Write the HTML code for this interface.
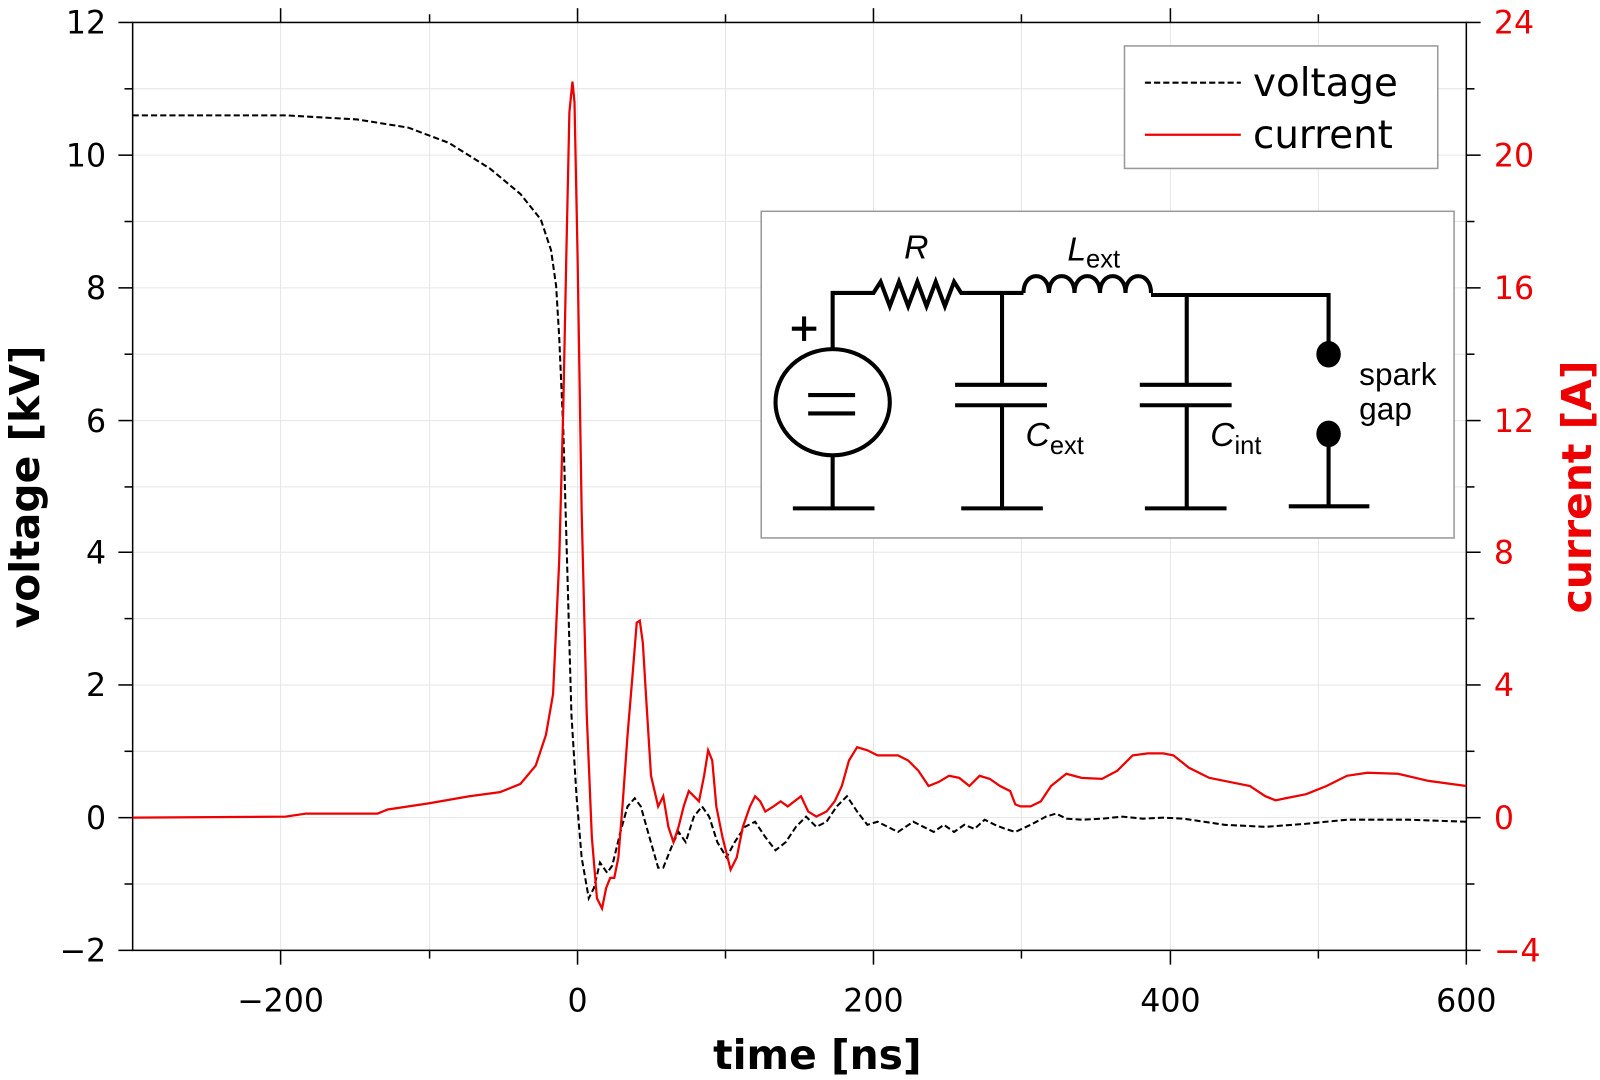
<!DOCTYPE html>
<html><head><style>
html,body{margin:0;padding:0;background:#fff;}
svg{display:block;font-family:"DejaVu Sans","Liberation Sans",sans-serif;}
</style></head><body>
<svg width="1600" height="1080" viewBox="0 0 1568 1058" preserveAspectRatio="none" xmlns="http://www.w3.org/2000/svg">
<rect width="1568" height="1058" fill="#fff"/>
<g stroke="#e6e6e6" stroke-width="1">
<line x1="130" y1="87" x2="1437" y2="87"/><line x1="130" y1="152" x2="1437" y2="152"/><line x1="130" y1="217" x2="1437" y2="217"/><line x1="130" y1="282" x2="1437" y2="282"/><line x1="130" y1="347" x2="1437" y2="347"/><line x1="130" y1="412" x2="1437" y2="412"/><line x1="130" y1="477" x2="1437" y2="477"/><line x1="130" y1="541" x2="1437" y2="541"/><line x1="130" y1="606" x2="1437" y2="606"/><line x1="130" y1="671" x2="1437" y2="671"/><line x1="130" y1="736" x2="1437" y2="736"/><line x1="130" y1="801" x2="1437" y2="801"/><line x1="130" y1="866" x2="1437" y2="866"/>
<line x1="275" y1="22" x2="275" y2="931"/><line x1="421" y1="22" x2="421" y2="931"/><line x1="566" y1="22" x2="566" y2="931"/><line x1="711" y1="22" x2="711" y2="931"/><line x1="856" y1="22" x2="856" y2="931"/><line x1="1001" y1="22" x2="1001" y2="931"/><line x1="1147" y1="22" x2="1147" y2="931"/><line x1="1292" y1="22" x2="1292" y2="931"/>
</g>
<rect x="130" y="22" width="1307" height="909" fill="none" stroke="#000" stroke-width="1.5"/>
<g stroke="#000" stroke-width="1.5">
<line x1="130" y1="22" x2="116" y2="22"/><line x1="130" y1="152" x2="116" y2="152"/><line x1="130" y1="282" x2="116" y2="282"/><line x1="130" y1="412" x2="116" y2="412"/><line x1="130" y1="541" x2="116" y2="541"/><line x1="130" y1="671" x2="116" y2="671"/><line x1="130" y1="801" x2="116" y2="801"/><line x1="130" y1="931" x2="116" y2="931"/>
<line x1="130" y1="87" x2="122" y2="87"/><line x1="130" y1="217" x2="122" y2="217"/><line x1="130" y1="347" x2="122" y2="347"/><line x1="130" y1="477" x2="122" y2="477"/><line x1="130" y1="606" x2="122" y2="606"/><line x1="130" y1="736" x2="122" y2="736"/><line x1="130" y1="866" x2="122" y2="866"/>
<line x1="275" y1="931" x2="275" y2="945"/><line x1="566" y1="931" x2="566" y2="945"/><line x1="856" y1="931" x2="856" y2="945"/><line x1="1147" y1="931" x2="1147" y2="945"/><line x1="1437" y1="931" x2="1437" y2="945"/>
<line x1="421" y1="931" x2="421" y2="939"/><line x1="711" y1="931" x2="711" y2="939"/><line x1="1001" y1="931" x2="1001" y2="939"/><line x1="1292" y1="931" x2="1292" y2="939"/>
<line x1="275" y1="22" x2="275" y2="8"/><line x1="566" y1="22" x2="566" y2="8"/><line x1="856" y1="22" x2="856" y2="8"/><line x1="1147" y1="22" x2="1147" y2="8"/><line x1="421" y1="22" x2="421" y2="14"/><line x1="711" y1="22" x2="711" y2="14"/><line x1="1001" y1="22" x2="1001" y2="14"/><line x1="1292" y1="22" x2="1292" y2="14"/>
<line x1="1437" y1="22" x2="1451" y2="22"/><line x1="1437" y1="152" x2="1451" y2="152"/><line x1="1437" y1="282" x2="1451" y2="282"/><line x1="1437" y1="412" x2="1451" y2="412"/><line x1="1437" y1="541" x2="1451" y2="541"/><line x1="1437" y1="671" x2="1451" y2="671"/><line x1="1437" y1="801" x2="1451" y2="801"/><line x1="1437" y1="931" x2="1451" y2="931"/>
<line x1="1437" y1="87" x2="1445" y2="87"/><line x1="1437" y1="217" x2="1445" y2="217"/><line x1="1437" y1="347" x2="1445" y2="347"/><line x1="1437" y1="477" x2="1445" y2="477"/><line x1="1437" y1="606" x2="1445" y2="606"/><line x1="1437" y1="736" x2="1445" y2="736"/><line x1="1437" y1="866" x2="1445" y2="866"/>
</g>
<g font-size="31" text-anchor="end" fill="#000">
<text x="104" y="33">12</text><text x="104" y="163">10</text><text x="104" y="293">8</text><text x="104" y="423">6</text><text x="104" y="552">4</text><text x="104" y="682">2</text><text x="104" y="812">0</text><text x="104" y="942">−2</text>
</g>
<g font-size="31" text-anchor="start" fill="#e00">
<text x="1464" y="33">24</text><text x="1464" y="163">20</text><text x="1464" y="293">16</text><text x="1464" y="423">12</text><text x="1464" y="552">8</text><text x="1464" y="682">4</text><text x="1464" y="812">0</text><text x="1464" y="942">−4</text>
</g>
<g font-size="31" text-anchor="middle">
<text x="275" y="991">−200</text><text x="566" y="991">0</text><text x="856" y="991">200</text><text x="1147" y="991">400</text><text x="1437" y="991">600</text>
</g>
<text x="801" y="1047" font-size="40" font-weight="bold" text-anchor="middle">time [ns]</text>
<text transform="translate(38,477) rotate(-90)" font-size="40" font-weight="bold" text-anchor="middle">voltage [kV]</text>
<text transform="translate(1559,477) rotate(-90)" font-size="40" font-weight="bold" text-anchor="middle" fill="#e00">current [A]</text>
<polyline fill="none" stroke="#000" stroke-width="2" stroke-dasharray="6,3" points="130,113 280,113 350,117 400,125 440,140 480,165 510,190 530,215 540,245 545,280 548,330 552,420 556,560 560,700 565,780 570,840 577,880 582,870 588,845 595,855 600,848 608,815 615,790 622,782 628,790 635,815 645,850 650,850 660,825 665,815 672,825 680,800 688,790 695,800 703,825 712,840 720,825 730,810 740,805 750,820 760,833 770,825 780,810 790,800 800,810 810,805 820,790 830,780 840,795 850,808 860,805 870,810 880,815 895,805 905,810 915,815 925,808 935,815 945,808 955,812 965,803 975,808 985,812 995,815 1010,808 1025,800 1035,797 1045,802 1060,803 1080,802 1100,800 1120,802 1140,801 1160,802 1180,805 1200,808 1240,810 1280,807 1320,803 1380,803 1437,805"/>
<polyline fill="none" stroke="#e00" stroke-width="2.2" points="130,801 280,800 300,797 370,797 380,793 420,787 460,780 490,776 510,768 525,750 535,720 542,680 548,550 552,400 555,250 558,110 561,80 563,100 566,250 570,500 575,700 580,820 585,880 590,890 594,870 598,860 602,860 606,840 610,790 615,720 620,660 624,610 627,608 630,630 633,680 638,760 645,790 650,780 655,810 660,825 665,810 670,790 675,775 680,780 685,785 690,760 694,735 698,745 702,790 708,820 716,852 722,840 728,810 735,790 740,780 745,785 750,795 758,790 765,785 772,790 785,780 792,795 800,800 810,795 818,785 825,770 832,745 840,732 850,735 860,740 880,740 890,745 900,755 910,770 920,766 930,760 940,762 950,770 960,760 970,763 980,770 990,775 995,788 1000,790 1010,790 1020,785 1030,770 1045,758 1060,762 1080,763 1095,755 1110,740 1125,738 1140,738 1150,740 1165,752 1185,762 1205,766 1225,770 1240,780 1250,784 1260,782 1280,778 1300,770 1320,760 1340,757 1370,758 1400,765 1437,770"/>
<rect x="1102" y="45" width="307" height="120" fill="#fff" stroke="#999" stroke-width="1.5"/>
<line x1="1122" y1="81" x2="1216" y2="81" stroke="#000" stroke-width="2" stroke-dasharray="6,3"/>
<line x1="1122" y1="132" x2="1216" y2="132" stroke="#e00" stroke-width="2.2"/>
<text x="1228" y="94" font-size="38">voltage</text>
<text x="1228" y="145" font-size="38">current</text>
<rect x="746" y="207" width="679" height="320" fill="#fff" stroke="#999" stroke-width="1.5"/>
<g stroke="#000" stroke-width="4" fill="none">
<polyline points="816,342 816,287 856,287 863,276 872,300 881,276 890,300 899,276 908,300 917,276 926,300 935,276 942,287 1003,287"/>
<path d="M1003,287 c0,-22 25,-22 25,0 c0,-22 25,-22 25,0 c0,-22 25,-22 25,0 c0,-22 25,-22 25,0 c0,-22 25,-22 25,0"/>
<polyline points="1128,289 1302,289 1302,345"/>
<ellipse cx="816" cy="394" rx="56" ry="52"/>
<line x1="792" y1="387" x2="838" y2="387"/><line x1="792" y1="405" x2="838" y2="405"/>
<line x1="816" y1="446" x2="816" y2="498"/><line x1="777" y1="498" x2="857" y2="498"/>
<line x1="982" y1="287" x2="982" y2="377"/><line x1="936" y1="377" x2="1026" y2="377"/><line x1="936" y1="397" x2="1026" y2="397"/><line x1="982" y1="397" x2="982" y2="498"/><line x1="942" y1="498" x2="1022" y2="498"/>
<line x1="1163" y1="289" x2="1163" y2="377"/><line x1="1117" y1="377" x2="1207" y2="377"/><line x1="1117" y1="397" x2="1207" y2="397"/><line x1="1163" y1="397" x2="1163" y2="498"/><line x1="1122" y1="498" x2="1202" y2="498"/>
<line x1="1302" y1="425" x2="1302" y2="496"/><line x1="1263" y1="496" x2="1342" y2="496"/>
<line x1="776" y1="322" x2="800" y2="322"/><line x1="788" y1="310" x2="788" y2="334"/>
</g>
<ellipse cx="1302" cy="347" rx="12" ry="13" fill="#000"/>
<ellipse cx="1302" cy="425" rx="12" ry="13" fill="#000"/>
<g font-size="33" font-family="Liberation Sans, sans-serif">
<text x="886" y="253" font-style="italic">R</text>
<text x="1046" y="255" font-style="italic">L<tspan font-size="25" font-style="normal" dy="7">ext</tspan></text>
<text x="1005" y="437" font-style="italic">C<tspan font-size="25" font-style="normal" dy="8">ext</tspan></text>
<text x="1186" y="437" font-style="italic">C<tspan font-size="25" font-style="normal" dy="8">int</tspan></text>
<text x="1332" y="377" font-size="31">spark</text>
<text x="1332" y="411" font-size="31">gap</text>
</g>
</svg>
</body></html>
